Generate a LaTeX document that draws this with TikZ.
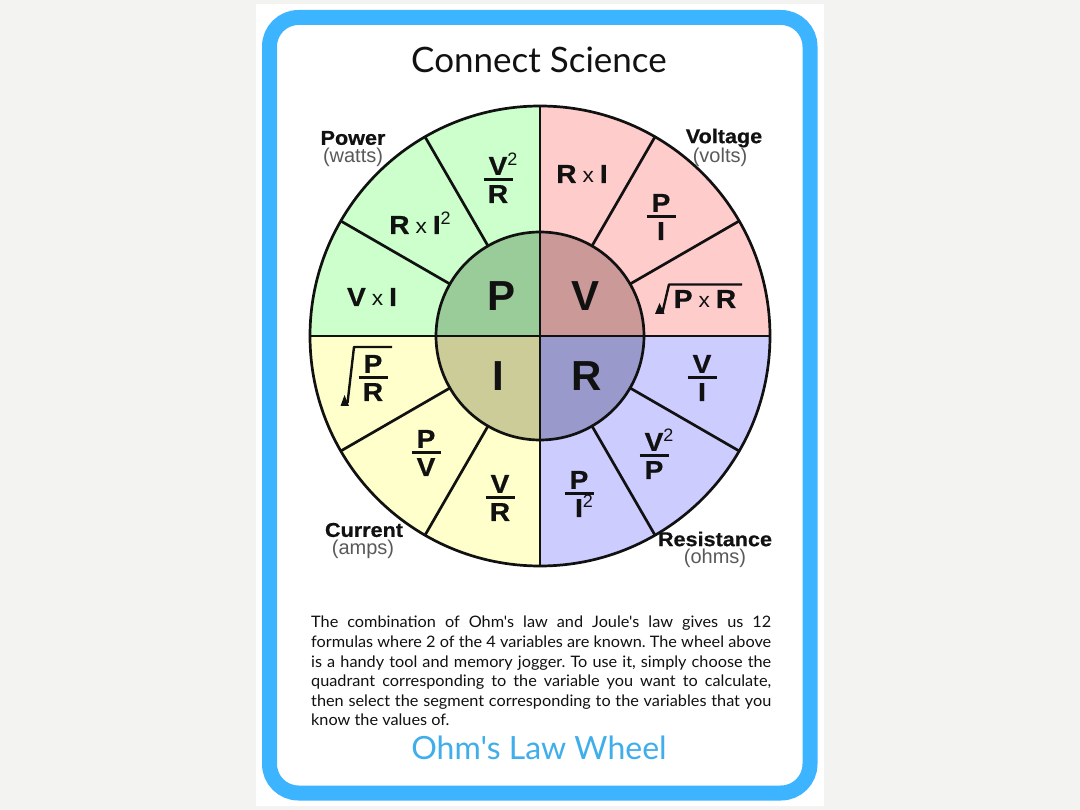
\documentclass[tikz,border=0pt]{standalone}
\usepackage{fontspec}
\usetikzlibrary{calc}
\setmainfont{Lato}
\newfontfamily\bodyfont[FakeStretch=1.03]{Lato}
\newfontfamily\capfont{Lato}
\newfontfamily\wheelfont[FakeStretch=1.08,BoldFeatures={FakeBold=0.6}]{Liberation Sans}
\newfontfamily\bigfont{Liberation Sans}
\newfontfamily\unitfont{Liberation Sans}
\definecolor{paper}{HTML}{F3F3F2}
\definecolor{frameblue}{HTML}{3DB4FF}
\definecolor{capblue}{HTML}{3FAEEB}
\definecolor{gO}{HTML}{CCFFCC}\definecolor{gI}{HTML}{99CC99}
\definecolor{pO}{HTML}{FFCCCC}\definecolor{pI}{HTML}{CC9999}
\definecolor{yO}{HTML}{FFFFCC}\definecolor{yI}{HTML}{CCCC99}
\definecolor{bO}{HTML}{CCCCFF}\definecolor{bI}{HTML}{9999CC}
\definecolor{ink}{HTML}{111111}
\newcommand{\wsize}[1]{\fontsize{#1}{#1}\selectfont}
\newcommand{\ap}{\char39 }
\newcommand{\sq}{\rlap{\smash{\raisebox{9pt}{\unitfont\mdseries\wsize{18}2}}}}
\newcommand{\mx}{\hspace{6pt}{\mdseries\wsize{21}x}\hspace{6pt}}
\newcommand{\ofrac}[2]{\vbox{\hsize=29pt\parindent=0pt\offinterlineskip
  \hbox to 29pt{\hss#1\hss}\vskip3.5pt\hrule height 2.2pt\vskip4.5pt\hbox to 29pt{\hss#2\hss}}}
\tikzset{
  form/.style={font=\wheelfont\bfseries\wsize{26},text=ink,inner sep=0pt},
  big/.style={font=\bigfont\bfseries\wsize{42},text=ink,inner sep=0pt},
  lblhead/.style={font=\wheelfont\bfseries\wsize{20},text=ink,inner sep=0pt},
  lblunit/.style={font=\unitfont\wsize{20},text=black!65,inner sep=0pt},
  wheelline/.style={draw=ink,line width=2.7pt},
  spoke/.style={draw=ink,line width=2.7pt},
  rootline/.style={draw=ink,line width=2.4pt,line join=round},
}
\begin{document}
\begin{tikzpicture}[x=1pt,y=1pt]
\useasboundingbox (0,-810) rectangle (1080,0);
\fill[paper] (0,-810) rectangle (1080,0);
\fill[white] (256,-806) rectangle (824,-4);
\draw[frameblue,line width=15pt,fill=white,rounded corners=29pt] (269.5,-793) rectangle (810,-17.5);
\node[inner sep=0pt,font=\wsize{35},text=ink] (title) at (539,-60) {Connect Science};
\coordinate (c) at (540,-336);
% quadrants
\fill[gO] (c) -- ++(180:230) arc[start angle=180,end angle=90,radius=230] -- cycle;
\fill[pO] (c) -- ++(90:230) arc[start angle=90,end angle=0,radius=230] -- cycle;
\fill[bO] (c) -- ++(0:230) arc[start angle=0,end angle=-90,radius=230] -- cycle;
\fill[yO] (c) -- ++(-90:230) arc[start angle=-90,end angle=-180,radius=230] -- cycle;
\fill[gI] (c) -- ++(180:104) arc[start angle=180,end angle=90,radius=104] -- cycle;
\fill[pI] (c) -- ++(90:104) arc[start angle=90,end angle=0,radius=104] -- cycle;
\fill[bI] (c) -- ++(0:104) arc[start angle=0,end angle=-90,radius=104] -- cycle;
\fill[yI] (c) -- ++(-90:104) arc[start angle=-90,end angle=-180,radius=104] -- cycle;
% spokes
\foreach \a in {30,60,120,150,210,240,300,330}
  \draw[spoke] ($(c)+(\a:104)$) -- ($(c)+(\a:230)$);
\draw[wheelline] (c) circle[radius=230];
\draw[wheelline] (c) circle[radius=104];
\draw[wheelline] ($(c)+(180:230)$) -- ($(c)+(0:230)$);
\draw[wheelline] ($(c)+(90:230)$) -- ($(c)+(-90:230)$);
% centre letters
\node[big] (nP) at (502,-296) {P};
\node[big] (nV) at (586,-296) {V};
\node[big] (nI) at (498,-376) {I};
\node[big] (nR) at (587,-376) {R};
% green
\node[form] (f1) at (498,-180) {\ofrac{V\sq}{R}};
\node[form] (f2) at (415,-225) {R\mx I\sq};
\node[form] (f3) at (372,-297) {V\mx I};
% pink
\node[form] (f4) at (582,-174) {R\mx I};
\node[form] (f5) at (661,-217) {\ofrac{P}{I}};
\node[form] (f6) at (705,-299) {P\mx R};
\draw[rootline] (662.5,-312) -- (669,-284.5) -- (742,-284.5);
\fill[ink] (655,-314) -- (659.5,-303) -- (664.5,-314) -- cycle;
% yellow
\node[form] (f7) at (373,-378) {\ofrac{P}{R}};
\draw[rootline] (347.5,-403) -- (354,-347) -- (392,-347);
\fill[ink] (340.5,-406) -- (344.5,-395) -- (349,-406) -- cycle;
\node[form] (f8) at (426,-453) {\ofrac{P}{V}};
\node[form] (f9) at (500,-498) {\ofrac{V}{R}};
% blue
\node[form] (f10) at (702,-378) {\ofrac{V}{I}};
\node[form] (f11) at (654,-456) {\ofrac{V\sq}{P}};
\node[form] (f12) at (579,-494) {\ofrac{P}{I\sq}};
% labels
\node[lblhead] (h1) at (353,-138) {Power};
\node[lblunit] (u1) at (353,-157) {(watts)};
\node[lblhead] (h2) at (724,-138) {Voltage};
\node[lblunit] (u2) at (720,-157) {(volts)};
\node[lblhead] (h3) at (364,-530) {Current};
\node[lblunit] (u3) at (363,-549) {(amps)};
\node[lblhead] (h4) at (715,-539) {Resistance};
\node[lblunit] (u4) at (715,-558) {(ohms)};
% body
\node[inner sep=0pt,anchor=north west,text=ink,text width=460pt,align=justify,font=\bodyfont\wsize{15.8}] (body) at (311,-616)
 {\frenchspacing\baselineskip=19.6pt The combination of Ohm\ap s law and Joule\ap s law gives us 12\linebreak
 formulas where 2 of the 4 variables are known. The wheel above\linebreak
 is a handy tool and memory jogger. To use it, simply choose the\linebreak
 quadrant corresponding to the variable you want to calculate,\linebreak
 then select the segment corresponding to the variables that you\linebreak
 know the values of.\par};
\node[inner sep=0pt,font=\capfont\wsize{32},text=capblue] (cap) at (539,-748) {Ohm\ap s Law Wheel};
\end{tikzpicture}
\end{document}
